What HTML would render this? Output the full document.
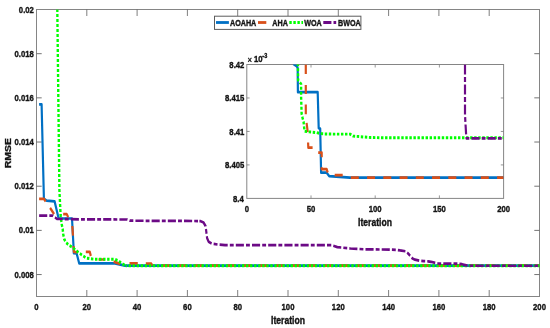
<!DOCTYPE html>
<html><head><meta charset="utf-8"><title>RMSE convergence</title>
<style>
html,body{margin:0;padding:0;background:#fff}
svg{display:block}
text{font-family:"Liberation Sans",Arial,Helvetica,sans-serif}
</style></head><body>
<svg width="550" height="328" viewBox="0 0 550 328">
<defs>
<clipPath id="cm"><rect x="45.06172839506173" y="9.5" width="622.4876543209876" height="287.0"/></clipPath>
<clipPath id="ci"><rect x="304.69135802469134" y="64.5" width="317.037037037037" height="133.9"/></clipPath>
</defs>
<rect width="550" height="328" fill="#fff"/>
<rect x="36.5" y="9.5" width="503.0" height="287.0" fill="#fff" stroke="#858585" stroke-width="1"/>
<path d="M86.80,296.5v-6.5M86.80,9.5v6.5" stroke="#5e5e5e" stroke-width="0.8" fill="none"/>
<path d="M137.10,296.5v-6.5M137.10,9.5v6.5" stroke="#5e5e5e" stroke-width="0.8" fill="none"/>
<path d="M187.40,296.5v-6.5M187.40,9.5v6.5" stroke="#5e5e5e" stroke-width="0.8" fill="none"/>
<path d="M237.70,296.5v-6.5M237.70,9.5v6.5" stroke="#5e5e5e" stroke-width="0.8" fill="none"/>
<path d="M288.00,296.5v-6.5M288.00,9.5v6.5" stroke="#5e5e5e" stroke-width="0.8" fill="none"/>
<path d="M338.30,296.5v-6.5M338.30,9.5v6.5" stroke="#5e5e5e" stroke-width="0.8" fill="none"/>
<path d="M388.60,296.5v-6.5M388.60,9.5v6.5" stroke="#5e5e5e" stroke-width="0.8" fill="none"/>
<path d="M438.90,296.5v-6.5M438.90,9.5v6.5" stroke="#5e5e5e" stroke-width="0.8" fill="none"/>
<path d="M489.20,296.5v-6.5M489.20,9.5v6.5" stroke="#5e5e5e" stroke-width="0.8" fill="none"/>
<path d="M36.5,274.56h5.2M539.5,274.56h-5.2" stroke="#646464" stroke-width="0.9" fill="none"/>
<path d="M36.5,230.38h5.2M539.5,230.38h-5.2" stroke="#646464" stroke-width="0.9" fill="none"/>
<path d="M36.5,186.21h5.2M539.5,186.21h-5.2" stroke="#646464" stroke-width="0.9" fill="none"/>
<path d="M36.5,142.03h5.2M539.5,142.03h-5.2" stroke="#646464" stroke-width="0.9" fill="none"/>
<path d="M36.5,97.85h5.2M539.5,97.85h-5.2" stroke="#646464" stroke-width="0.9" fill="none"/>
<path d="M36.5,53.68h5.2M539.5,53.68h-5.2" stroke="#646464" stroke-width="0.9" fill="none"/>
<g transform="scale(0.81,1)" clip-path="url(#cm)">
<polyline points="48.27,104.30 51.36,104.30 54.20,198.80 57.53,200.60 67.41,201.30 72.35,218.30 88.89,218.50 90.86,248.00 91.11,253.10 94.57,253.30 97.78,263.40 141.98,263.40 154.32,265.60 666.05,265.60" fill="none" stroke="#0070C4" stroke-width="2.7" stroke-linejoin="round" stroke-linecap="butt"/>
<polyline points="48.27,198.80 54.32,198.80 56.30,201.50" fill="none" stroke="#D9501A" stroke-width="2.7" stroke-linejoin="round" stroke-linecap="butt"/>
<polyline points="61.85,207.90 66.79,214.10" fill="none" stroke="#D9501A" stroke-width="2.7" stroke-linejoin="round" stroke-linecap="butt"/>
<polyline points="78.02,214.10 82.35,214.10 84.20,217.10" fill="none" stroke="#D9501A" stroke-width="2.7" stroke-linejoin="round" stroke-linecap="butt"/>
<polyline points="89.26,226.00 90.12,235.60" fill="none" stroke="#D9501A" stroke-width="2.7" stroke-linejoin="round" stroke-linecap="butt"/>
<polyline points="90.74,246.00 91.23,252.00 95.06,252.20" fill="none" stroke="#D9501A" stroke-width="2.7" stroke-linejoin="round" stroke-linecap="butt"/>
<polyline points="105.93,251.80 110.86,251.80 112.10,256.00" fill="none" stroke="#D9501A" stroke-width="2.7" stroke-linejoin="round" stroke-linecap="butt"/>
<polyline points="121.60,259.50 129.63,259.50" fill="none" stroke="#D9501A" stroke-width="2.7" stroke-linejoin="round" stroke-linecap="butt"/>
<polyline points="140.25,261.60 148.27,263.90" fill="none" stroke="#D9501A" stroke-width="2.7" stroke-linejoin="round" stroke-linecap="butt"/>
<polyline points="159.88,263.30 170.12,263.30" fill="none" stroke="#D9501A" stroke-width="2.7" stroke-linejoin="round" stroke-linecap="butt"/>
<polyline points="180.00,263.60 186.79,263.60 188.02,265.60" fill="none" stroke="#D9501A" stroke-width="2.7" stroke-linejoin="round" stroke-linecap="butt"/>
<polyline points="200.12,265.70 210.12,265.70" fill="none" stroke="#D9501A" stroke-width="2.7" stroke-linejoin="round" stroke-linecap="butt"/>
<polyline points="220.15,265.70 230.15,265.70" fill="none" stroke="#D9501A" stroke-width="2.7" stroke-linejoin="round" stroke-linecap="butt"/>
<polyline points="240.17,265.70 250.17,265.70" fill="none" stroke="#D9501A" stroke-width="2.7" stroke-linejoin="round" stroke-linecap="butt"/>
<polyline points="260.20,265.70 270.20,265.70" fill="none" stroke="#D9501A" stroke-width="2.7" stroke-linejoin="round" stroke-linecap="butt"/>
<polyline points="280.22,265.70 290.22,265.70" fill="none" stroke="#D9501A" stroke-width="2.7" stroke-linejoin="round" stroke-linecap="butt"/>
<polyline points="300.25,265.70 310.25,265.70" fill="none" stroke="#D9501A" stroke-width="2.7" stroke-linejoin="round" stroke-linecap="butt"/>
<polyline points="320.27,265.70 330.27,265.70" fill="none" stroke="#D9501A" stroke-width="2.7" stroke-linejoin="round" stroke-linecap="butt"/>
<polyline points="340.30,265.70 350.30,265.70" fill="none" stroke="#D9501A" stroke-width="2.7" stroke-linejoin="round" stroke-linecap="butt"/>
<polyline points="360.32,265.70 370.32,265.70" fill="none" stroke="#D9501A" stroke-width="2.7" stroke-linejoin="round" stroke-linecap="butt"/>
<polyline points="380.35,265.70 390.35,265.70" fill="none" stroke="#D9501A" stroke-width="2.7" stroke-linejoin="round" stroke-linecap="butt"/>
<polyline points="400.37,265.70 410.37,265.70" fill="none" stroke="#D9501A" stroke-width="2.7" stroke-linejoin="round" stroke-linecap="butt"/>
<polyline points="420.40,265.70 430.40,265.70" fill="none" stroke="#D9501A" stroke-width="2.7" stroke-linejoin="round" stroke-linecap="butt"/>
<polyline points="440.42,265.70 450.42,265.70" fill="none" stroke="#D9501A" stroke-width="2.7" stroke-linejoin="round" stroke-linecap="butt"/>
<polyline points="460.44,265.70 470.44,265.70" fill="none" stroke="#D9501A" stroke-width="2.7" stroke-linejoin="round" stroke-linecap="butt"/>
<polyline points="480.47,265.70 490.47,265.70" fill="none" stroke="#D9501A" stroke-width="2.7" stroke-linejoin="round" stroke-linecap="butt"/>
<polyline points="500.49,265.70 510.49,265.70" fill="none" stroke="#D9501A" stroke-width="2.7" stroke-linejoin="round" stroke-linecap="butt"/>
<polyline points="520.52,265.70 530.52,265.70" fill="none" stroke="#D9501A" stroke-width="2.7" stroke-linejoin="round" stroke-linecap="butt"/>
<polyline points="540.54,265.70 550.54,265.70" fill="none" stroke="#D9501A" stroke-width="2.7" stroke-linejoin="round" stroke-linecap="butt"/>
<polyline points="560.57,265.70 570.57,265.70" fill="none" stroke="#D9501A" stroke-width="2.7" stroke-linejoin="round" stroke-linecap="butt"/>
<polyline points="580.59,265.70 590.59,265.70" fill="none" stroke="#D9501A" stroke-width="2.7" stroke-linejoin="round" stroke-linecap="butt"/>
<polyline points="600.62,265.70 610.62,265.70" fill="none" stroke="#D9501A" stroke-width="2.7" stroke-linejoin="round" stroke-linecap="butt"/>
<polyline points="620.64,265.70 630.64,265.70" fill="none" stroke="#D9501A" stroke-width="2.7" stroke-linejoin="round" stroke-linecap="butt"/>
<polyline points="640.67,265.70 650.67,265.70" fill="none" stroke="#D9501A" stroke-width="2.7" stroke-linejoin="round" stroke-linecap="butt"/>
<polyline points="660.69,265.70 666.05,265.70" fill="none" stroke="#D9501A" stroke-width="2.7" stroke-linejoin="round" stroke-linecap="butt"/>
<polyline points="70.74,9.35 73.33,190.00 74.81,215.00 76.11,224.00 77.41,229.00 78.02,234.10 79.26,239.10 81.73,242.70 85.43,245.40 89.75,247.40 93.33,250.00 97.78,253.00 102.10,255.60 106.42,258.10 111.36,258.70 116.30,259.20 141.98,259.30 146.42,260.90 150.74,263.60 155.19,265.75" fill="none" stroke="#00FF00" stroke-width="2.95" stroke-linejoin="round" stroke-linecap="butt" stroke-dasharray="3,2" stroke-dashoffset="0.30"/>
<polyline points="155.19,265.75 666.05,265.75" fill="none" stroke="#00FF00" stroke-width="2.95" stroke-linejoin="round" stroke-linecap="butt" stroke-dasharray="3,2" stroke-dashoffset="1.48"/>
<polyline points="48.27,215.60 64.81,215.60 70.37,218.90 98.77,219.40 157.16,219.50 160.49,220.70 244.44,221.04" fill="none" stroke="#6C0A86" stroke-width="2.7" stroke-linejoin="round" stroke-linecap="butt" stroke-dasharray="10,2.6,4.8,2.6" stroke-dashoffset="19.95"/>
<polyline points="244.44,221.04 247.04,221.05 251.36,222.60 253.83,226.10 254.44,230.10 255.06,234.10 255.68,238.10 257.53,241.70 261.85,243.70 269.38,244.60 277.78,245.15 406.17,245.15" fill="none" stroke="#6C0A86" stroke-width="2.7" stroke-linejoin="round" stroke-linecap="butt" stroke-dasharray="10,2.6,4.8,2.6" stroke-dashoffset="18.25"/>
<polyline points="406.17,245.15 409.01,245.15 416.42,247.10 432.59,248.50 450.00,249.30 480.86,249.60 490.86,250.00 493.83,250.39" fill="none" stroke="#6C0A86" stroke-width="2.7" stroke-linejoin="round" stroke-linecap="butt" stroke-dasharray="10,2.6,4.8,2.6" stroke-dashoffset="14.61"/>
<polyline points="493.83,250.39 500.74,251.30 503.70,253.40 506.91,256.10 509.26,258.50 512.35,259.70 517.53,260.60 523.09,261.10 528.40,261.30 532.10,261.80 537.41,262.90 540.74,263.50 565.43,263.70 565.43,263.70" fill="none" stroke="#6C0A86" stroke-width="2.7" stroke-linejoin="round" stroke-linecap="butt" stroke-dasharray="10,2.6,4.8,2.6" stroke-dashoffset="3.29"/>
<polyline points="565.43,263.70 570.37,264.20 578.02,265.75 666.05,265.75" fill="none" stroke="#6C0A86" stroke-width="2.7" stroke-linejoin="round" stroke-linecap="butt" stroke-dasharray="10,2.6,4.8,2.6" stroke-dashoffset="18.21"/>
</g>
<rect x="246.8" y="64.5" width="256.8" height="133.9" fill="#fff" stroke="#858585" stroke-width="1"/>
<path d="M311.00,198.4v-3M311.00,64.5v3" stroke="#808080" stroke-width="0.8" fill="none"/>
<path d="M375.20,198.4v-3M375.20,64.5v3" stroke="#808080" stroke-width="0.8" fill="none"/>
<path d="M439.40,198.4v-3M439.40,64.5v3" stroke="#808080" stroke-width="0.8" fill="none"/>
<path d="M246.8,164.92h2.8M503.6,164.92h-2.8" stroke="#7a7a7a" stroke-width="0.8" fill="none"/>
<path d="M246.8,131.45h2.8M503.6,131.45h-2.8" stroke="#7a7a7a" stroke-width="0.8" fill="none"/>
<path d="M246.8,97.97h2.8M503.6,97.97h-2.8" stroke="#7a7a7a" stroke-width="0.8" fill="none"/>
<g transform="scale(0.81,1)" clip-path="url(#ci)">
<polyline points="361.98,63.80 366.42,66.20 367.53,68.00 367.78,92.20 392.22,92.20 393.46,128.10 395.31,128.60 396.42,172.60 403.21,172.60 406.42,176.10 423.70,177.20 432.10,177.60 621.85,177.60" fill="none" stroke="#0070C4" stroke-width="2.7" stroke-linejoin="round" stroke-linecap="butt"/>
<polyline points="377.53,64.50 377.53,74.10" fill="none" stroke="#D9501A" stroke-width="2.7" stroke-linejoin="round" stroke-linecap="butt"/>
<polyline points="377.53,85.10 377.53,94.00" fill="none" stroke="#D9501A" stroke-width="2.7" stroke-linejoin="round" stroke-linecap="butt"/>
<polyline points="377.53,104.60 377.53,114.20" fill="none" stroke="#D9501A" stroke-width="2.7" stroke-linejoin="round" stroke-linecap="butt"/>
<polyline points="378.52,122.90 379.88,132.10" fill="none" stroke="#D9501A" stroke-width="2.7" stroke-linejoin="round" stroke-linecap="butt"/>
<polyline points="380.37,142.50 380.62,147.60 385.93,147.60" fill="none" stroke="#D9501A" stroke-width="2.7" stroke-linejoin="round" stroke-linecap="butt"/>
<polyline points="392.84,152.60 397.16,152.60 397.16,157.30" fill="none" stroke="#D9501A" stroke-width="2.7" stroke-linejoin="round" stroke-linecap="butt"/>
<polyline points="397.16,167.30 397.16,169.10 403.21,169.10 404.57,172.60" fill="none" stroke="#D9501A" stroke-width="2.7" stroke-linejoin="round" stroke-linecap="butt"/>
<polyline points="413.21,175.10 423.09,175.10" fill="none" stroke="#D9501A" stroke-width="2.7" stroke-linejoin="round" stroke-linecap="butt"/>
<polyline points="433.09,177.60 442.96,177.60" fill="none" stroke="#D9501A" stroke-width="2.7" stroke-linejoin="round" stroke-linecap="butt"/>
<polyline points="453.15,177.60 463.02,177.60" fill="none" stroke="#D9501A" stroke-width="2.7" stroke-linejoin="round" stroke-linecap="butt"/>
<polyline points="473.21,177.60 483.09,177.60" fill="none" stroke="#D9501A" stroke-width="2.7" stroke-linejoin="round" stroke-linecap="butt"/>
<polyline points="493.27,177.60 503.15,177.60" fill="none" stroke="#D9501A" stroke-width="2.7" stroke-linejoin="round" stroke-linecap="butt"/>
<polyline points="513.33,177.60 523.21,177.60" fill="none" stroke="#D9501A" stroke-width="2.7" stroke-linejoin="round" stroke-linecap="butt"/>
<polyline points="533.40,177.60 543.27,177.60" fill="none" stroke="#D9501A" stroke-width="2.7" stroke-linejoin="round" stroke-linecap="butt"/>
<polyline points="553.46,177.60 563.33,177.60" fill="none" stroke="#D9501A" stroke-width="2.7" stroke-linejoin="round" stroke-linecap="butt"/>
<polyline points="573.52,177.60 583.40,177.60" fill="none" stroke="#D9501A" stroke-width="2.7" stroke-linejoin="round" stroke-linecap="butt"/>
<polyline points="593.58,177.60 603.46,177.60" fill="none" stroke="#D9501A" stroke-width="2.7" stroke-linejoin="round" stroke-linecap="butt"/>
<polyline points="613.64,177.60 621.85,177.60" fill="none" stroke="#D9501A" stroke-width="2.7" stroke-linejoin="round" stroke-linecap="butt"/>
<polyline points="367.78,58.25 368.02,80.00 371.73,84.10 371.73,97.00 372.35,113.50 373.58,118.00 374.81,122.00 375.43,127.10 376.05,131.30 381.73,131.90 390.99,132.60 395.31,133.60 400.86,133.90 411.11,134.10 432.35,134.10 436.05,136.10 457.16,137.50 469.14,137.70 621.85,137.70" fill="none" stroke="#00FF00" stroke-width="2.95" stroke-linejoin="round" stroke-linecap="butt" stroke-dasharray="3,2" stroke-dashoffset="0.00"/>
<polyline points="574.07,44.50 574.07,115.00 575.43,134.10 575.93,138.30 621.85,138.30" fill="none" stroke="#6C0A86" stroke-width="2.7" stroke-linejoin="round" stroke-linecap="butt" stroke-dasharray="10,2.6,4.8,2.6" stroke-dashoffset="0.00"/>
</g>
<rect x="214.5" y="16.2" width="146.4" height="13.2" fill="#fff" stroke="#5c5c5c" stroke-width="1"/>
<g transform="scale(0.81,1)">
<polyline points="266.67,22.50 282.59,22.50" fill="none" stroke="#0070C4" stroke-width="2.8" stroke-linejoin="round" stroke-linecap="butt"/>
<polyline points="318.52,22.50 328.77,22.50" fill="none" stroke="#D9501A" stroke-width="2.8" stroke-linejoin="round" stroke-linecap="butt"/>
<polyline points="357.16,22.50 374.07,22.50" fill="none" stroke="#00FF00" stroke-width="2.9" stroke-linejoin="round" stroke-linecap="butt" stroke-dasharray="3,2" stroke-dashoffset="0.00"/>
<polyline points="399.14,22.50 415.06,22.50" fill="none" stroke="#6C0A86" stroke-width="2.8" stroke-linejoin="round" stroke-linecap="butt" stroke-dasharray="10,2.6,4.8,2.6" stroke-dashoffset="0.00"/>
</g>
<text transform="translate(36.50,310.30) scale(0.79,1)" font-size="9.8" text-anchor="middle" font-weight="bold" fill="#141414" stroke="#141414" stroke-width="0.38">0</text>
<text transform="translate(86.80,310.30) scale(0.79,1)" font-size="9.8" text-anchor="middle" font-weight="bold" fill="#141414" stroke="#141414" stroke-width="0.38">20</text>
<text transform="translate(137.10,310.30) scale(0.79,1)" font-size="9.8" text-anchor="middle" font-weight="bold" fill="#141414" stroke="#141414" stroke-width="0.38">40</text>
<text transform="translate(187.40,310.30) scale(0.79,1)" font-size="9.8" text-anchor="middle" font-weight="bold" fill="#141414" stroke="#141414" stroke-width="0.38">60</text>
<text transform="translate(237.70,310.30) scale(0.79,1)" font-size="9.8" text-anchor="middle" font-weight="bold" fill="#141414" stroke="#141414" stroke-width="0.38">80</text>
<text transform="translate(288.00,310.30) scale(0.79,1)" font-size="9.8" text-anchor="middle" font-weight="bold" fill="#141414" stroke="#141414" stroke-width="0.38">100</text>
<text transform="translate(338.30,310.30) scale(0.79,1)" font-size="9.8" text-anchor="middle" font-weight="bold" fill="#141414" stroke="#141414" stroke-width="0.38">120</text>
<text transform="translate(388.60,310.30) scale(0.79,1)" font-size="9.8" text-anchor="middle" font-weight="bold" fill="#141414" stroke="#141414" stroke-width="0.38">140</text>
<text transform="translate(438.90,310.30) scale(0.79,1)" font-size="9.8" text-anchor="middle" font-weight="bold" fill="#141414" stroke="#141414" stroke-width="0.38">160</text>
<text transform="translate(489.20,310.30) scale(0.79,1)" font-size="9.8" text-anchor="middle" font-weight="bold" fill="#141414" stroke="#141414" stroke-width="0.38">180</text>
<text transform="translate(539.50,310.30) scale(0.79,1)" font-size="9.8" text-anchor="middle" font-weight="bold" fill="#141414" stroke="#141414" stroke-width="0.38">200</text>
<text transform="translate(33.90,277.56) scale(0.79,1)" font-size="9.8" text-anchor="end" font-weight="bold" fill="#141414" stroke="#141414" stroke-width="0.38">0.008</text>
<text transform="translate(33.90,233.38) scale(0.79,1)" font-size="9.8" text-anchor="end" font-weight="bold" fill="#141414" stroke="#141414" stroke-width="0.38">0.01</text>
<text transform="translate(33.90,189.21) scale(0.79,1)" font-size="9.8" text-anchor="end" font-weight="bold" fill="#141414" stroke="#141414" stroke-width="0.38">0.012</text>
<text transform="translate(33.90,145.03) scale(0.79,1)" font-size="9.8" text-anchor="end" font-weight="bold" fill="#141414" stroke="#141414" stroke-width="0.38">0.014</text>
<text transform="translate(33.90,100.85) scale(0.79,1)" font-size="9.8" text-anchor="end" font-weight="bold" fill="#141414" stroke="#141414" stroke-width="0.38">0.016</text>
<text transform="translate(33.90,56.68) scale(0.79,1)" font-size="9.8" text-anchor="end" font-weight="bold" fill="#141414" stroke="#141414" stroke-width="0.38">0.018</text>
<text transform="translate(33.90,12.50) scale(0.79,1)" font-size="9.8" text-anchor="end" font-weight="bold" fill="#141414" stroke="#141414" stroke-width="0.38">0.02</text>
<text transform="translate(288.00,324.20) scale(0.86,1)" font-size="10.0" text-anchor="middle" font-weight="bold" fill="#141414" stroke="#141414" stroke-width="0.38">Iteration</text>
<text transform="translate(10.60,153.20) scale(0.8,1) rotate(-90)" font-size="10.5" text-anchor="middle" font-weight="bold" fill="#141414" stroke="#141414" stroke-width="0.38">RMSE</text>
<text transform="translate(246.80,211.60) scale(0.79,1)" font-size="9.8" text-anchor="middle" font-weight="bold" fill="#141414" stroke="#141414" stroke-width="0.38">0</text>
<text transform="translate(311.00,211.60) scale(0.79,1)" font-size="9.8" text-anchor="middle" font-weight="bold" fill="#141414" stroke="#141414" stroke-width="0.38">50</text>
<text transform="translate(375.20,211.60) scale(0.79,1)" font-size="9.8" text-anchor="middle" font-weight="bold" fill="#141414" stroke="#141414" stroke-width="0.38">100</text>
<text transform="translate(439.40,211.60) scale(0.79,1)" font-size="9.8" text-anchor="middle" font-weight="bold" fill="#141414" stroke="#141414" stroke-width="0.38">150</text>
<text transform="translate(503.60,211.60) scale(0.79,1)" font-size="9.8" text-anchor="middle" font-weight="bold" fill="#141414" stroke="#141414" stroke-width="0.38">200</text>
<text transform="translate(243.80,202.35) scale(0.79,1)" font-size="9.8" text-anchor="end" font-weight="bold" fill="#141414" stroke="#141414" stroke-width="0.38">8.4</text>
<text transform="translate(244.40,168.27) scale(0.79,1)" font-size="9.8" text-anchor="end" font-weight="bold" fill="#141414" stroke="#141414" stroke-width="0.38">8.405</text>
<text transform="translate(244.40,134.80) scale(0.79,1)" font-size="9.8" text-anchor="end" font-weight="bold" fill="#141414" stroke="#141414" stroke-width="0.38">8.41</text>
<text transform="translate(244.40,101.32) scale(0.79,1)" font-size="9.8" text-anchor="end" font-weight="bold" fill="#141414" stroke="#141414" stroke-width="0.38">8.415</text>
<text transform="translate(244.40,67.85) scale(0.79,1)" font-size="9.8" text-anchor="end" font-weight="bold" fill="#141414" stroke="#141414" stroke-width="0.38">8.42</text>
<text transform="translate(375.00,226.00) scale(0.86,1)" font-size="10.0" text-anchor="middle" font-weight="bold" fill="#141414" stroke="#141414" stroke-width="0.38">Iteration</text>
<text transform="translate(247.60,62.90) scale(0.79,1)" font-size="9.8" text-anchor="start" font-weight="normal" fill="#141414" stroke="#141414" stroke-width="0.38">×</text>
<text transform="translate(254.00,61.90) scale(0.79,1)" font-size="9.8" text-anchor="start" font-weight="bold" fill="#141414" stroke="#141414" stroke-width="0.38">10</text>
<text transform="translate(262.30,58.00) scale(0.79,1)" font-size="7.0" text-anchor="start" font-weight="bold" fill="#141414" stroke="#141414" stroke-width="0.38">-3</text>
<text transform="translate(230.00,25.60) scale(0.835,1)" font-size="8.6" text-anchor="start" font-weight="bold" fill="#141414" stroke="#141414" stroke-width="0.38">AOAHA</text>
<text transform="translate(272.30,25.60) scale(0.835,1)" font-size="8.6" text-anchor="start" font-weight="bold" fill="#141414" stroke="#141414" stroke-width="0.38">AHA</text>
<text transform="translate(304.20,25.60) scale(0.835,1)" font-size="8.6" text-anchor="start" font-weight="bold" fill="#141414" stroke="#141414" stroke-width="0.38">WOA</text>
<text transform="translate(338.00,25.60) scale(0.835,1)" font-size="8.6" text-anchor="start" font-weight="bold" fill="#141414" stroke="#141414" stroke-width="0.38">BWOA</text>
</svg>
</body></html>
